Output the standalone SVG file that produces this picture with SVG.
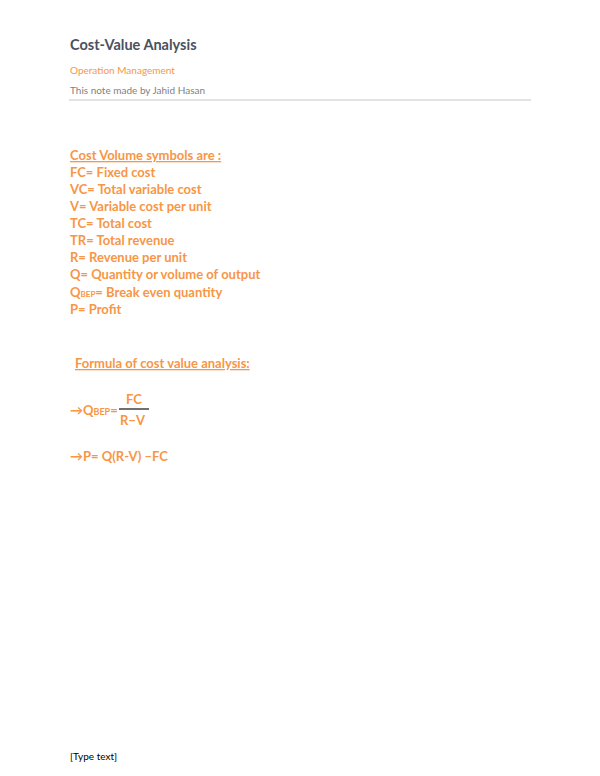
<svg xmlns="http://www.w3.org/2000/svg" width="600" height="776" viewBox="0 0 600 776">
<style>
text{font-family:Lato,"Liberation Sans",sans-serif}
.o{fill:#F79646;font-weight:bold;font-size:13px}
</style>
<rect width="600" height="776" fill="#fff"/>
<g id="header">
<text x="70" y="50" font-size="14.5" font-weight="bold" fill="#4a5160">Cost-Value Analysis</text>
<text x="70" y="74" font-size="10" fill="#F79646">Operation Management</text>
<text x="70" y="94" font-size="10" fill="#7f7f7f">This note made by Jahid Hasan</text>
<line x1="69" y1="100" x2="531" y2="100" stroke="#c8c8c8" stroke-width="1"/>
</g>
<g id="symbols">
<text class="o" x="70" y="160" text-decoration="underline">Cost Volume symbols are :</text>
<text class="o" x="70" y="177">FC= Fixed cost</text>
<text class="o" x="70" y="194">VC= Total variable cost</text>
<text class="o" x="70" y="211">V= Variable cost per unit</text>
<text class="o" x="70" y="228">TC= Total cost</text>
<text class="o" x="70" y="245">TR= Total revenue</text>
<text class="o" x="70" y="262">R= Revenue per unit</text>
<text class="o" x="70" y="279">Q= Quantity or volume of output</text>
<text class="o" x="70" y="297">Q<tspan font-size="8">BEP</tspan>= Break even quantity</text>
<text class="o" x="70" y="314">P= Profit</text>
</g>
<g id="formulas">
<text class="o" x="75" y="368" font-size="19" text-decoration="underline">Formula of cost value analysis:</text>
<text class="o" x="70" y="415">→Q<tspan font-size="9">BEP</tspan>=</text>
<text class="o" x="126" y="404">FC</text>
<line x1="119" y1="409" x2="149" y2="409" stroke="#222" stroke-width="1.3"/>
<text class="o" x="120" y="425">R−V</text>
<text class="o" x="70" y="461" font-size="15">→P= Q(R-V) –FC</text>
</g>
<text x="70" y="760" font-size="10" fill="#000">[Type text]</text>
</svg>
